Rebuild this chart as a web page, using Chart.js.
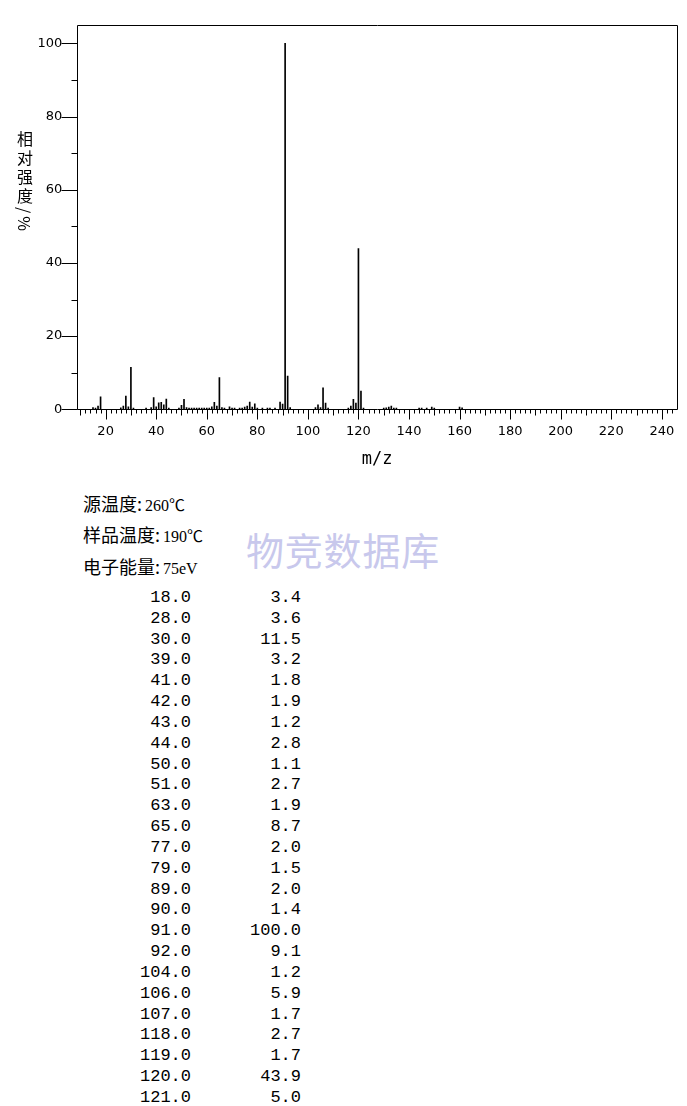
<!DOCTYPE html>
<html>
<head>
<meta charset="utf-8">
<script src="https://cdn.jsdelivr.net/npm/chart.js@4.4.1/dist/chart.umd.min.js"></script>
<style>
html, body { margin: 0; padding: 0; background: #fff; overflow: hidden; }
body { width: 687px; height: 1106px; position: relative; }
#plot { position: absolute; left: 0; top: 0; width: 687px; height: 480px; }
#ytitle { position: absolute; left: 17px; top: 131px; writing-mode: vertical-rl; font: 16px "Noto Sans CJK SC"; line-height: 16px; letter-spacing: 3px; color: #000; }
.info { position: absolute; left: 83px; height: 22px; line-height: 22px; white-space: nowrap; color: #000; }
.info .k { font: 18px "Noto Sans CJK SC"; margin-right: 3px; }
.info .v { font: 16px "Liberation Serif", "Noto Sans CJK SC"; }
#mark { position: absolute; left: 246px; top: 530px; font: 38px "Noto Sans CJK SC"; line-height: 38px; letter-spacing: 0.8px; color: #c8c8ec; white-space: nowrap; }
#peaks { position: absolute; left: 0; top: 588px; font: 17px "Liberation Mono"; line-height: 20.83px; color: #000; }
#peaks span { display: inline-block; text-align: right; }
#peaks .c1 { width: 191px; }
#peaks .c2 { width: 110px; }
</style>
</head>
<body>
<div id="plot"><canvas id="chart"></canvas></div>
<div id="ytitle">相对强度/%</div>
<div id="mark">物竞数据库</div>
<div id="peaks"></div>
<script>
'use strict'

// spectrum peaks (m/z, relative intensity %)
const mz = [15, 16, 17, 18, 26, 27, 28, 29, 30, 31, 36, 38, 39, 40, 41, 42, 43, 44, 45, 49,
  50, 51, 52, 53, 54, 55, 56, 57, 58, 59, 60, 61, 62, 63, 64, 65, 66, 67, 69, 70,
  71, 73, 74, 75, 76, 77, 78, 79, 80, 82, 84, 85, 87, 89, 90, 91, 92, 93, 103, 104,
  105, 106, 107, 108, 116, 117, 118, 119, 120, 121, 122, 130, 131, 132, 133, 134, 135, 144, 145, 147,
  149, 150, 160, 161];
const intensity = [0.5, 0.3, 0.9, 3.4, 0.4, 0.9, 3.6, 0.7, 11.5, 0.3, 0.3, 0.5, 3.2, 0.7, 1.8, 1.9, 1.2, 2.8, 0.3, 0.3,
  1.1, 2.7, 0.5, 0.3, 0.3, 0.3, 0.3, 0.3, 0.3, 0.3, 0.3, 0.3, 0.7, 1.9, 0.9, 8.7, 0.5, 0.3, 0.7, 0.3,
  0.3, 0.3, 0.3, 0.6, 0.9, 2.0, 0.6, 1.5, 0.3, 0.3, 0.3, 0.3, 0.3, 2.0, 1.4, 100.0, 9.1, 0.5, 0.5, 1.2,
  0.5, 5.9, 1.7, 0.3, 0.3, 0.9, 2.7, 1.7, 43.9, 5.0, 0.3, 0.3, 0.4, 0.6, 0.9, 0.3, 0.3, 0.3, 0.3, 0.3,
  0.6, 0.3, 0.6, 0.4];

const xLabels = [20, 40, 60, 80, 100, 120, 140, 160, 180, 200, 220, 240];
const yLabels = [0, 20, 40, 60, 80, 100];

const infoKeys = ['源温度:', '样品温度:', '电子能量:'];
const infoVals = ['260℃', '190℃', '75eV'];
const infoY = [490, 521, 553];

// text block under the chart
infoKeys.forEach(function(k, i) {
  var d = document.createElement('div');
  d.className = 'info';
  d.style.top = infoY[i] + 'px';
  d.innerHTML = '<span class="k">' + k + '</span><span class="v">' + infoVals[i] + '</span>';
  document.body.appendChild(d);
});

var rows = '';
mz.forEach(function(m, i) {
  if (intensity[i] >= 1.0) {
    rows += '<div><span class="c1">' + m.toFixed(1) + '</span><span class="c2">' + intensity[i].toFixed(1) + '</span></div>';
  }
});
document.getElementById('peaks').innerHTML = rows;

// box + tick marks
const frame = {
  id: 'frame',
  afterDraw(chart) {
    const ctx = chart.ctx;
    const a = chart.chartArea;
    const x = chart.scales.x, y = chart.scales.y;
    const L = Math.round(a.left) + 0.5, R = Math.round(a.right) + 0.5;
    const T = Math.round(a.top) + 0.5, B = Math.round(a.bottom) + 0.5;
    ctx.save();
    ctx.strokeStyle = '#000';
    ctx.lineWidth = 1;
    ctx.beginPath();
    ctx.rect(L, T, R - L, B - T);
    x.ticks.forEach(function(t) {
      var px = Math.round(x.getPixelForValue(t.value)) + 0.5;
      var len = t.value % 20 === 0 ? 10 : (t.value % 10 === 0 ? 6 : 4);
      ctx.moveTo(px, B);
      ctx.lineTo(px, B + len);
    });
    y.ticks.forEach(function(t) {
      var py = Math.round(y.getPixelForValue(t.value)) + 0.5;
      var len = t.value % 20 === 0 ? 16 : 6;
      ctx.moveTo(L - len, py);
      ctx.lineTo(L, py);
    });
    ctx.stroke();
    ctx.restore();
  }
};

const chart = new Chart(document.getElementById('chart'), {
  type: 'bar',
  data: {
    datasets: [{
      data: mz.map(function(m, i) { return { x: m, y: intensity[i] }; }),
      backgroundColor: '#000',
      borderWidth: 0,
      barThickness: 1
    }]
  },
  options: {
    responsive: true,
    maintainAspectRatio: false,
    animation: false,
    layout: { padding: { top: 25, right: 8.5, left: 0, bottom: 0 } },
    plugins: { legend: { display: false }, tooltip: { enabled: false } },
    scales: {
      x: {
        type: 'linear',
        min: 9.8,
        max: 245,
        grid: { display: false, drawTicks: false },
        border: { display: false },
        ticks: {
          stepSize: 2,
          includeBounds: false,
          autoSkip: false,
          maxRotation: 0,
          padding: 15,
          color: '#000',
          font: { family: 'DejaVu Sans', size: 13 },
          callback: function(v) { return xLabels.includes(v) ? String(v) : ''; }
        },
        title: {
          display: true,
          text: 'm/z',
          color: '#000',
          font: { family: 'DejaVu Sans Mono', size: 17 },
          padding: { top: 0, bottom: 10 }
        },
        afterFit: function(s) { s.height = 480 - 409.3; }
      },
      y: {
        min: 0,
        max: 105,
        grid: { display: false, drawTicks: false },
        border: { display: false },
        ticks: {
          stepSize: 10,
          includeBounds: false,
          autoSkip: false,
          padding: 15,
          color: '#000',
          font: { family: 'DejaVu Sans', size: 13 },
          callback: function(v) { return yLabels.includes(v) ? String(v) : ''; }
        },
        afterFit: function(s) { s.width = 77.3; }
      }
    }
  },
  plugins: [frame]
});
</script>
</body>
</html>
